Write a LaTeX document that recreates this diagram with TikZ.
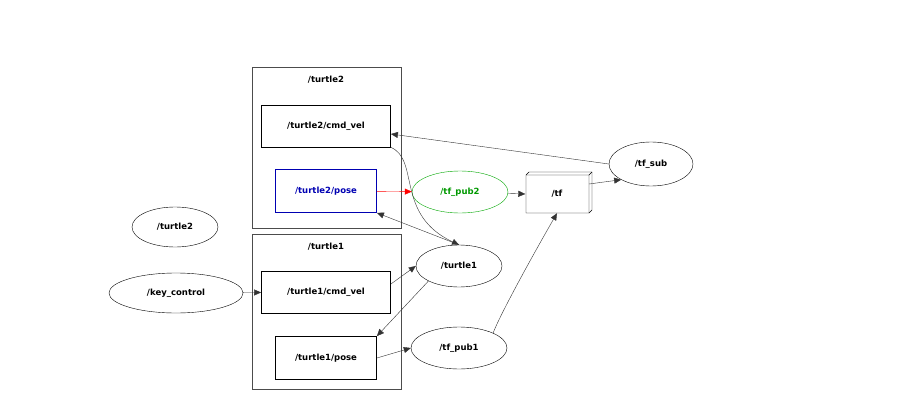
\documentclass[tikz,border=0pt]{standalone}
\usepackage{fontspec}
\setmainfont{DejaVu Sans}
\usetikzlibrary{arrows.meta,shapes.geometric}
\begin{document}
\begin{tikzpicture}[x=1pt,y=-1pt,
  every node/.style={font=\bfseries\fontsize{8.5}{10}\selectfont},
  box/.style={draw,thick,rectangle,inner sep=0},
  ell/.style={draw,ellipse,inner sep=0},
  clus/.style={draw=black!70,thick},
  ar/.style={-{Triangle[length=7pt,width=6pt]},black!80}]
\useasboundingbox (0,0) rectangle (904,412);
\draw[clus] (252,67) rectangle (401,228);
\node (c2) at (326,80) {/turtle2};
\draw[clus] (252,234) rectangle (401,389);
\node (c1) at (326,247) {/turtle1};
\node[box,minimum width=129,minimum height=42] (t2cmd) at (326,126) {/turtle2/cmd\_vel};
\node[box,draw=blue!70!black,text=blue!70!black,minimum width=101,minimum height=43] (t2pose) at (326,191) {/turtle2/pose};
\node[box,minimum width=129,minimum height=42] (t1cmd) at (326,292) {/turtle1/cmd\_vel};
\node[box,minimum width=101,minimum height=43] (t1pose) at (326,358) {/turtle1/pose};
\node[ell,draw=green!65!black,text=green!60!black,minimum width=96,minimum height=42] (tfp2) at (460,192) {/tf\_pub2};
\draw[fill=white] (529,172) -- (592,172) -- (592,210) -- (589,213) -- (526,213) -- (526,175) -- cycle;
\draw (526,175) -- (589,175) -- (592,172) (589,175) -- (589,213);
\node[minimum width=63,minimum height=38] (tf) at (557,194) {/tf};
\node[ell,minimum width=84,minimum height=44] (tfsub) at (651,164) {/tf\_sub};
\node[ell,minimum width=86,minimum height=40] (tu2) at (175,227) {/turtle2};
\node[ell,minimum width=134,minimum height=40] (key) at (176,293) {/key\_control};
\node[ell,minimum width=86,minimum height=42] (tu1) at (459,266) {/turtle1};
\node[ell,minimum width=96,minimum height=42] (tfp1) at (459,348) {/tf\_pub1};
\draw[ar] (tfsub.west) -- (t2cmd.east |- 0,134);
\draw[ar] (t2cmd.south east) .. controls (420,160) and (395,215) .. (tu1.north);
\draw[ar] (tu1.north) -- (t2pose.south east);
\draw[ar,red] (t2pose) -- (tfp2);
\draw[ar] (tfp2) -- (tf.west);
\draw[ar] (589,184) -- (tfsub.south west);
\draw[ar] (key) -- (t1cmd);
\draw[ar] (t1cmd.east |- 0,284) -- (tu1.west);
\draw[ar] (tu1.south west) -- (t1pose.north east);
\draw[ar] (t1pose.east) -- (tfp1.west);
\draw[ar] (tfp1.north east) .. controls (500,315) and (530,260) .. (tf.south);
\end{tikzpicture}
\end{document}
